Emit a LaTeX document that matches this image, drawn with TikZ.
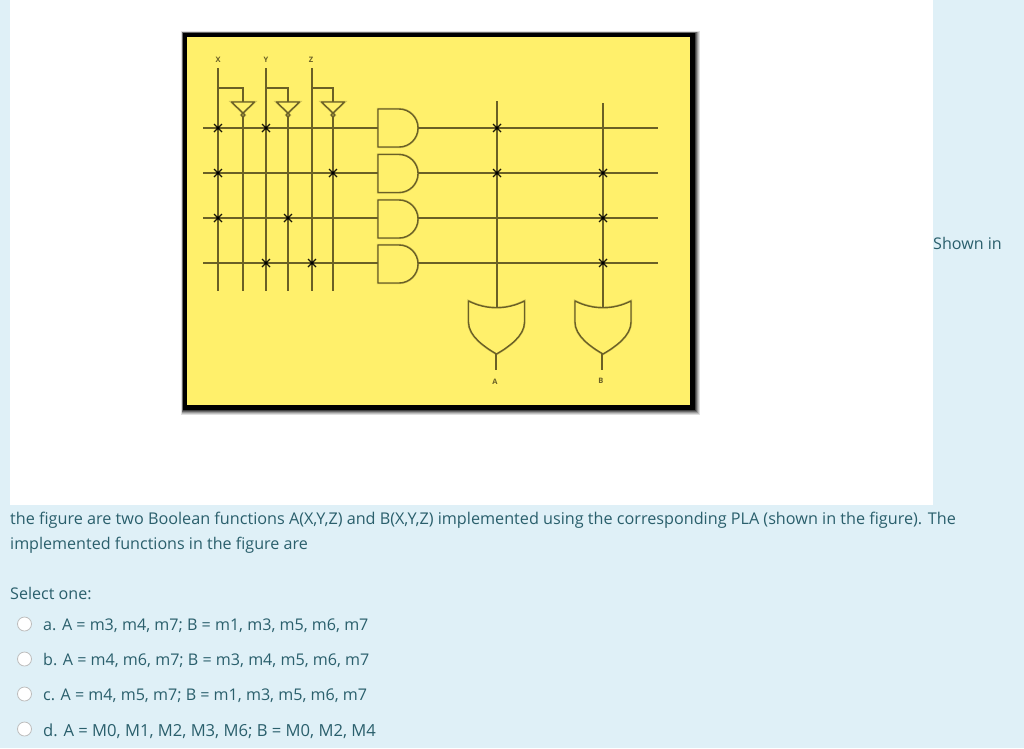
\documentclass[tikz,border=0pt]{standalone}
\usepackage{fontspec}
\setmainfont{Open Sans}
\definecolor{pagebg}{HTML}{DFF0F7}
\definecolor{panel}{HTML}{FFF06B}
\definecolor{wire}{HTML}{6A6026}
\definecolor{txt}{HTML}{2A5F6C}
\definecolor{radio}{HTML}{BDBDBD}
\tikzset{
  wireline/.style={draw=wire,line width=1.4pt,preaction={draw=wire,opacity=.3,line width=2.4pt}},
  gateline/.style={draw=wire,line width=1.4pt,line join=round,preaction={draw=wire,opacity=.3,line width=2.4pt}},
  fuse/.style={draw=black!75!wire,line width=1.1pt},
  tiny/.style={text=wire,font=\fontsize{7.5}{8}\selectfont\bfseries,inner sep=0pt},
  body/.style={text=txt,font=\fontsize{16.1}{20}\selectfont,anchor=base west,inner sep=0pt},
  longline/.style={body,font=\fontsize{16.2}{20}\selectfont},
  optiond/.style={body,font=\fontsize{16.6}{20}\selectfont},
  radiobtn/.style={circle,draw=radio,fill=white,line width=.8pt,minimum size=14pt,inner sep=0pt},
}
\newcommand{\fusemark}[2]{\draw[fuse] (#1-4,#2-4) -- (#1+4,#2+4) (#1-4,#2+4) -- (#1+4,#2-4);\fill[black] (#1,#2) circle (1.8);}
\newcommand{\andgate}[1]{\draw[gateline,fill=panel] (378,#1-19) -- (399,#1-19) arc[start angle=-90,end angle=90,radius=19] -- (378,#1+19) -- cycle;}
\newcommand{\orgate}[1]{\draw[gateline,fill=panel] (#1-28,301) .. controls (#1-10,310) and (#1+10,310) .. (#1+28,301) -- (#1+28,322) .. controls (#1+28,336) and (#1+12,347) .. (#1,354) .. controls (#1-12,347) and (#1-28,336) .. (#1-28,322) -- cycle;}
\begin{document}
\begin{tikzpicture}[x=1pt,y=-1pt]
\useasboundingbox (0,0) rectangle (1024,748);
\fill[pagebg] (0,0) rectangle (1024,748);
\fill[white] (10,0) rectangle (933,505);
% frame and its soft shadow
\foreach \d/\o in {5/.12,4/.15,3/.2,2/.3,1/.4}
  \fill[black,opacity=\o] (183-\d/3,33-\d/3) rectangle (695+\d,410+\d);
\draw[black,line width=4.5pt,fill=panel] (185,35) rectangle (692.5,407.5);
% input columns
\foreach \x in {218,266,312} \draw[wireline] (\x,68) -- (\x,291);
\foreach \x in {243,288,333} \draw[wireline] (\x,115) -- (\x,291);
\draw[wireline] (218,88) -| (243,102);
\draw[wireline] (266,88) -| (288,102);
\draw[wireline] (312,88) -| (333,102);
\foreach \x in {243,288,333}{
  \draw[gateline,fill=panel] (\x-11.5,102) -- (\x+11.5,102) -- (\x,113) -- cycle;
  \draw[gateline,fill=panel] (\x,115) circle (1.8);
}
\node[tiny] (labx) at (218,59.5) {X};
\node[tiny] (laby) at (266,59.5) {Y};
\node[tiny] (labz) at (311,60) {Z};
% product rows
\foreach \y/\g in {128/128,173/173.5,218/219,263/264}{
  \draw[wireline] (203,\y) -- (378,\y);
  \draw[wireline] (418,\y) -- (658,\y);
  \andgate{\g}
}
% sum gates
\orgate{496.5}
\orgate{603}
\draw[wireline] (497,101) -- (497,307);
\draw[wireline] (603,103) -- (603,307);
\draw[wireline] (496,354) -- (496,370);
\draw[wireline] (602,354) -- (602,370);
\node[tiny] (laba) at (495,382) {A};
\node[tiny] (labb) at (601,381) {B};
% fuses
\fusemark{218}{128}\fusemark{266}{128}
\fusemark{218}{173}\fusemark{333}{173}
\fusemark{218}{218}\fusemark{288}{218}
\fusemark{266}{263}\fusemark{312}{263}
\fusemark{497}{128}\fusemark{497}{173}
\fusemark{603}{173}\fusemark{603}{218}\fusemark{603}{263}
% text
\node[body] (t0) at (933,249) {Shown in};
\node[longline] (t1) at (10,524) {the figure are two Boolean functions A(X,Y,Z) and B(X,Y,Z) implemented using the corresponding PLA (shown in the figure). The};
\node[body] (t2) at (10,549) {implemented functions in the figure are};
\node[body] (t3) at (10,599) {Select one:};
\node[radiobtn] (ra) at (24.5,624) {};
\node[radiobtn] (rb) at (24.5,659) {};
\node[radiobtn] (rc) at (24.5,694) {};
\node[radiobtn] (rd) at (24.5,729) {};
\node[body] (oa) at (43,630) {a. A = m3, m4, m7; B = m1, m3, m5, m6, m7};
\node[body] (ob) at (43,665) {b. A = m4, m6, m7; B = m3, m4, m5, m6, m7};
\node[body] (oc) at (43,700) {c. A = m4, m5, m7; B = m1, m3, m5, m6, m7};
\node[optiond] (od) at (43,736) {d. A = M0, M1, M2, M3, M6; B = M0, M2, M4};
\end{tikzpicture}
\end{document}
